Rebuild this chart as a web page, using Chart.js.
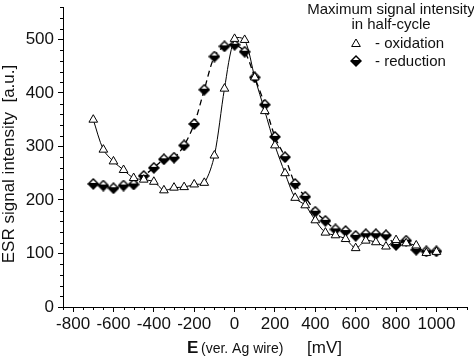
<!DOCTYPE html>
<html>
<head>
<meta charset="utf-8">
<script src="https://cdn.jsdelivr.net/npm/chart.js@4.4.1/dist/chart.umd.min.js"></script>
<style>
  html, body { margin: 0; padding: 0; background: #fff; }
  #wrap { width: 474px; height: 359px; }
</style>
</head>
<body>
<div id="wrap"><canvas id="c" width="474" height="359"></canvas></div>
<script>
// ---- data ----
const potentials = [-700,-650,-600,-550,-500,-450,-400,-350,-300,-250,-200,-150,-100,-50,0,50,100,150,200,250,300,350,400,450,500,550,600,650,700,750,800,850,900,950,1000];
const oxidation  = [350,294,272,256,241,238,234,218,223,224,229,232,283,408,501,499,429,366,302,250,204,190,162,139,134,127,110,124,121,113,125,119,115,101,103];
const reduction  = [230,227,222,227,229,245,260,276,279,302,342,406,468,487,490,477,429,378,318,280,230,206,178,161,145,142,133,136,136,134,116,124,107,104,104];
const xTickLabels = [-800,-600,-400,-200,0,200,400,600,800,1000];
const yTickLabels = [0,100,200,300,400,500];
const legendTitle = ['Maximum signal intensity', 'in half-cycle'];
const legendItems = ['- oxidation', '- reduction'];
const yTitle = 'ESR signal intensity  [a.u.]';

const FONT = "'Liberation Sans', Arial, Helvetica, sans-serif";

// diamond marker: black with white upper cap
function makeDiamond(size) {
  const cv = document.createElement('canvas');
  cv.width = size; cv.height = size;
  const g = cv.getContext('2d');
  const h = size / 2;
  g.beginPath();
  g.moveTo(h, 0); g.lineTo(size, h); g.lineTo(h, size); g.lineTo(0, h); g.closePath();
  g.fillStyle = '#000'; g.fill();
  g.beginPath();
  g.moveTo(h, 2); g.lineTo(h + 3, h - 1); g.lineTo(h - 3, h - 1); g.closePath();
  g.fillStyle = '#fff'; g.fill();
  return cv;
}
const diamondImg = makeDiamond(12);

function drawTriangle(ctx, x, y, r) {
  ctx.beginPath();
  ctx.moveTo(x, y - r);
  ctx.lineTo(x + r * 0.866, y + r * 0.5);
  ctx.lineTo(x - r * 0.866, y + r * 0.5);
  ctx.closePath();
  ctx.fillStyle = '#fff'; ctx.fill();
  ctx.lineWidth = 1; ctx.strokeStyle = '#000'; ctx.stroke();
}

const decor = {
  id: 'decor',
  afterDraw(chart) {
    const ctx = chart.ctx;
    const xs = chart.scales.x, ys = chart.scales.y;
    const a = chart.chartArea;
    ctx.save();
    ctx.strokeStyle = '#000';
    ctx.lineWidth = 1;
    // minor ticks
    ctx.beginPath();
    for (let v = 0; v <= 560; v += 20) {
      if (v % 100 === 0) continue;
      const py = Math.round(ys.getPixelForValue(v)) + 0.5;
      ctx.moveTo(a.left - 3, py); ctx.lineTo(a.left, py);
    }
    for (let v = -850; v <= 1150; v += 50) {
      if (v % 200 === 0) continue;
      const px = Math.round(xs.getPixelForValue(v)) + 0.5;
      ctx.moveTo(px, a.bottom); ctx.lineTo(px, a.bottom + 3);
    }
    ctx.stroke();

    // y title
    ctx.fillStyle = '#111';
    ctx.save();
    ctx.translate(9, 164);
    ctx.rotate(-Math.PI / 2);
    ctx.font = '17px ' + FONT;
    ctx.textAlign = 'center';
    ctx.textBaseline = 'middle';
    ctx.fillText(yTitle, 0, 0);
    ctx.restore();

    // x title
    ctx.textAlign = 'left';
    ctx.textBaseline = 'alphabetic';
    ctx.font = 'bold 17px ' + FONT;
    ctx.fillText('E', 187, 353);
    ctx.font = '14px ' + FONT;
    ctx.fillText('(ver. Ag wire)', 201, 353);
    ctx.font = '17px ' + FONT;
    ctx.fillText('[mV]', 307, 353);

    // legend
    ctx.font = '15px ' + FONT;
    ctx.textAlign = 'center';
    ctx.fillText(legendTitle[0], 391, 14);
    ctx.fillText(legendTitle[1], 391, 29);
    ctx.textAlign = 'left';
    ctx.fillText(legendItems[0], 375, 48);
    ctx.fillText(legendItems[1], 375, 66);
    drawTriangle(ctx, 356, 44, 5);
    ctx.drawImage(diamondImg, 356 - 6, 61 - 6);
    ctx.restore();
  }
};

new Chart(document.getElementById('c'), {
  type: 'line',
  data: {
    datasets: [
      {
        label: 'reduction',
        data: potentials.map((x, i) => ({ x, y: reduction[i] })),
        borderColor: '#000',
        borderWidth: 1.3,
        borderDash: [6, 4],
        tension: 0.3,
        pointStyle: diamondImg,
        pointRadius: 6,
        order: 2
      },
      {
        label: 'oxidation',
        data: potentials.map((x, i) => ({ x, y: oxidation[i] })),
        borderColor: '#000',
        borderWidth: 1,
        tension: 0.3,
        pointStyle: 'triangle',
        pointRadius: 5,
        pointBackgroundColor: '#fff',
        pointBorderColor: '#000',
        pointBorderWidth: 1,
        order: 1
      }
    ]
  },
  options: {
    responsive: false,
    devicePixelRatio: 1,
    animation: false,
    layout: { padding: 0 },
    plugins: { legend: { display: false }, tooltip: { enabled: false } },
    scales: {
      x: {
        type: 'linear',
        min: -850, max: 1150,
        afterBuildTicks: s => { s.ticks = xTickLabels.map(v => ({ value: v })); },
        afterFit: s => { s.height = 52; s.paddingLeft = 0; s.paddingRight = 0; },
        grid: { drawOnChartArea: false, drawTicks: true, tickLength: 5, color: '#000' },
        border: { display: true, color: '#000', width: 1 },
        ticks: { color: '#111', font: { family: FONT, size: 17 }, padding: 2, maxRotation: 0, autoSkip: false,
                 callback: v => String(v) }
      },
      y: {
        type: 'linear',
        min: 0, max: 560,
        afterBuildTicks: s => { s.ticks = yTickLabels.map(v => ({ value: v })); },
        afterFit: s => { s.width = 63; s.paddingTop = 0; s.paddingBottom = 0; },
        grid: { drawOnChartArea: false, drawTicks: true, tickLength: 5, color: '#000' },
        border: { display: true, color: '#000', width: 1 },
        ticks: { color: '#111', font: { family: FONT, size: 17 }, padding: 4, autoSkip: false,
                 callback: v => String(v) }
      }
    }
  },
  plugins: [decor]
});
</script>
</body>
</html>
